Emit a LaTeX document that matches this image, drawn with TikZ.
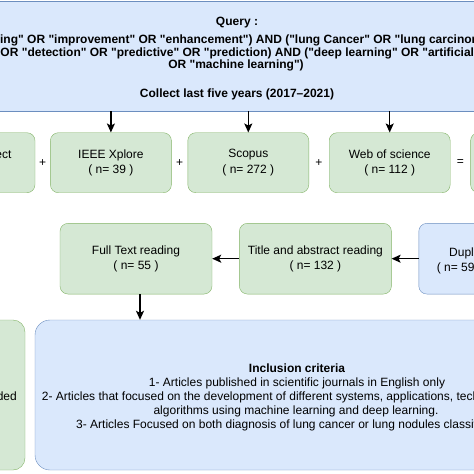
\documentclass[tikz,border=0pt]{standalone}
\usepackage{fontspec}
\setmainfont{Liberation Sans}[Ligatures=TeXOff]
\usetikzlibrary{positioning}
\usetikzlibrary{arrows.meta}
\definecolor{boxgreen}{HTML}{D5E8D4}
\definecolor{linegreen}{HTML}{82B366}
\definecolor{boxblue}{HTML}{DAE8FC}
\definecolor{lineblue}{HTML}{6C8EBF}
\tikzset {
  % query box at the top
  qbox/.style = {draw=lineblue, fill=boxblue, inner sep=0pt},
  % bold query lines
  qtxt/.style = {font=\fontsize{12}{12.5}\selectfont\bfseries, anchor=base, inner sep=0pt},
  % database and reading steps
  src/.style = {draw=linegreen, fill=boxgreen, rounded corners=8pt, align=center,
    minimum width=121pt, minimum height=60pt, inner sep=0pt},
  step2/.style = {src, minimum width=152pt, minimum height=70.7pt},
  dupbox/.style = {step2, draw=lineblue, fill=boxblue},
  % plus and equal signs
  sign/.style = {inner sep=0pt},
  % criteria text lines
  crit/.style = {anchor=base, inner sep=0pt},
  arr/.style = {-{Stealth[length=9pt, width=8pt, inset=2pt]}, line width=1.4pt},
}
\begin{document}
\begin{tikzpicture}[x=1pt, y=-1pt, font=\fontsize{12}{15.5}\selectfont]
  \clip (0,0) rectangle (474,474);

  % query
  \node[qbox, minimum width=900pt, minimum height=109.5pt] (query) at (237,56.25) {};
  \node[qtxt] (q1) at (237,25) {Query :};
  \node[qtxt, anchor=base west] (q2) at (3.3,43.6) {\llap{("screeni}ng" OR "improvement" OR "enhancement") AND ("lung Cancer" OR "lung carcinoma" OR "lung nodules")};
  \node[qtxt, anchor=base west] (q3) at (0.3,56) {\llap{("diagnosis" }OR "detection" OR "predictive" OR "prediction) AND ("deep learning" OR "artificial intelligence"};
  \node[qtxt] (q4) at (236,68.6) {OR "machine learning")};
  \node[qtxt] (q5) at (237,97.3) {Collect last five years (2017–2021)};

  % databases
  \node[src] (sd) at (-25.5,162.7) {ScienceDirect\\\phantom{( n= 00 )}};
  \node[src] (ieee) [right=15pt of sd] {IEEE Xplore\\( n= 39 )};
  \node[src] (scopus) [right=16pt of ieee] {Scopus\\( n= 272 )};
  \node[src] (wos) [right=20pt of scopus] {Web of science\\( n= 112 )};
  \node[src] (total) [right=20pt of wos] {};

  \path (sd.east) -- node[sign] (plus1) {+} (ieee.west);
  \path (ieee.east) -- node[sign] (plus2) {+} (scopus.west);
  \path (scopus.east) -- node[sign] (plus3) {+} (wos.west);
  \path (wos.east) -- node[sign] (equal) {=} (total.west);

  \draw[arr] (ieee |- query.south) -- (ieee);
  \draw[arr] (scopus |- query.south) -- (scopus);
  \draw[arr] (wos |- query.south) -- (wos);

  % screening
  \node[step2] (full) at (136,258.7) {Full Text reading\\( n= 55 )};
  \node[step2] (title) [right=27pt of full] {Title and abstract reading\\( n= 132 )};
  \node[dupbox] (dup) [right=27pt of title] {};
  \node[crit, anchor=base west] (dup1) at (449,256) {Duplicates removed};
  \node[crit, anchor=base west] (dup2) at (436.7,271) {( n= 59};

  \draw[arr] (dup) -- (title);
  \draw[arr] (title) -- (full);

  % criteria
  \node[src, minimum width=155pt, minimum height=150pt, rounded corners=12pt] (excl) at (-52.5,395) {};
  \node[crit, anchor=base east] (excl1) at (17,400) {Articles excluded};
  \node[dupbox, minimum width=524pt, minimum height=150pt, rounded corners=15pt] (incl) at (297,395) {};
  \node[crit, font=\fontsize{12}{15.5}\selectfont\bfseries] (c0) at (297,372) {Inclusion criteria};
  \node[crit] (c1) at (297,386) {1- Articles published in scientific journals in English only};
  \node[crit, anchor=base west] (c2) at (41.7,400) {2- Articles that focused on the development of different systems, applications, techniques and};
  \node[crit] (c3) at (296,414.3) {algorithms using machine learning and deep learning.};
  \node[crit, anchor=base west] (c4) at (76,428.6) {3- Articles Focused on both diagnosis of lung cancer or lung nodules classification.};

  \draw[arr] ([xshift=4pt]full.south) -- ([xshift=4pt]full.south |- incl.north);
\end{tikzpicture}
\end{document}
